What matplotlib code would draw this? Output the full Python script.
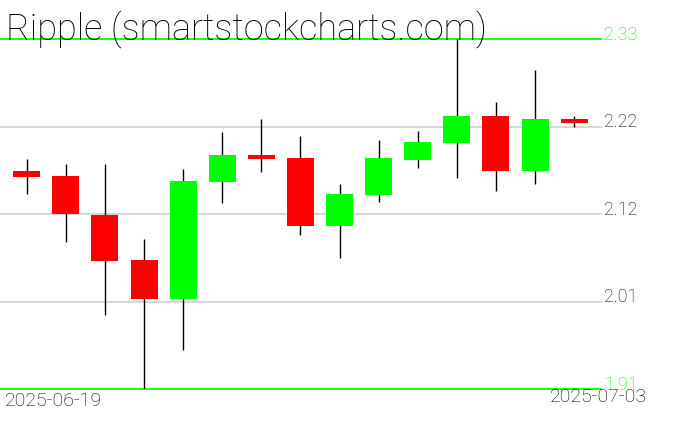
import matplotlib
matplotlib.use('Agg')
import matplotlib.pyplot as plt
from matplotlib.patches import Rectangle


# Données (cours journaliers)
dates = ['2025-06-19', '2025-06-20', '2025-06-21', '2025-06-22', '2025-06-23',
         '2025-06-24', '2025-06-25', '2025-06-26', '2025-06-27', '2025-06-28',
         '2025-06-29', '2025-06-30', '2025-07-01', '2025-07-02', '2025-07-03']
opens = [2.1716, 2.1656, 2.1188, 2.0648, 2.0184, 2.1588, 2.1908, 2.1872,
         2.106, 2.1432, 2.1852, 2.2056, 2.2376, 2.172, 2.2344]
highs = [2.186, 2.18, 2.18, 2.09, 2.174, 2.218, 2.234, 2.214,
         2.156, 2.2088, 2.2196, 2.33, 2.254, 2.2928, 2.238]
lows = [2.144, 2.086, 1.999, 1.91, 1.957, 2.133, 2.171, 2.095,
        2.0676, 2.1348, 2.1756, 2.1632, 2.148, 2.156, 2.2244]
closes = [2.1648, 2.12, 2.064, 2.0184, 2.1596, 2.1908, 2.1864, 2.106,
          2.144, 2.1872, 2.2064, 2.2376, 2.172, 2.234, 2.2296]

title = 'Ripple (smartstockcharts.com)'
levels = [1.91, 2.015, 2.12, 2.225, 2.33]
level_labels = ['1.91', '2.01', '2.12', '2.22', '2.33']

GREEN = '#00ff00'
RED = '#ff0000'
GRID = '#d3d3d3'

plt.rcParams['font.family'] = ['Roboto', 'DejaVu Sans']

fig = plt.figure(figsize=(6.76, 4.31), dpi=100)
fig.patch.set_facecolor('white')

# Zone du graphique en pixels : x 0..601, y 40..390
ax = fig.add_axes([0, 41 / 431, 601 / 676, 350 / 431])
ax.set_xlim(-26.7 / 39.1, (601 - 26.7) / 39.1)
ax.set_ylim(levels[0], levels[-1])
ax.axis('off')

# Lignes horizontales (quarts de l'intervalle)
for k, level in enumerate(levels):
    is_edge = k in (0, len(levels) - 1)
    ax.axhline(level, color=GREEN if is_edge else GRID, lw=1.3, zorder=1,
               clip_on=False)
    ax.text(1.005, level, level_labels[k], transform=ax.get_yaxis_transform(),
            color=GREEN if is_edge else 'black', fontsize=13, fontweight='light',
            ha='left', va='baseline', clip_on=False)

# Chandeliers
body_width = 27 / 39.1
for i in range(len(dates)):
    o, h, l, c = opens[i], highs[i], lows[i], closes[i]
    color = GREEN if c >= o else RED
    ax.vlines(i, l, h, color='black', lw=1.0, zorder=2)
    bottom = min(o, c)
    ax.add_patch(Rectangle((i - body_width / 2, bottom), body_width, abs(c - o),
                           facecolor=color, edgecolor='none', zorder=3))

# Titre et dates
fig.text(6 / 676, 1 - 39 / 431, title, fontsize=26, fontweight='light',
         ha='left', va='baseline', color='black')
fig.text(5 / 676, 1 - 406 / 431, dates[0], fontsize=14, fontweight='light',
         ha='left', va='baseline')
fig.text(647 / 676, 1 - 402 / 431, dates[-1], fontsize=14, fontweight='light',
         ha='right', va='baseline')

fig.savefig('out.png', dpi=100)
